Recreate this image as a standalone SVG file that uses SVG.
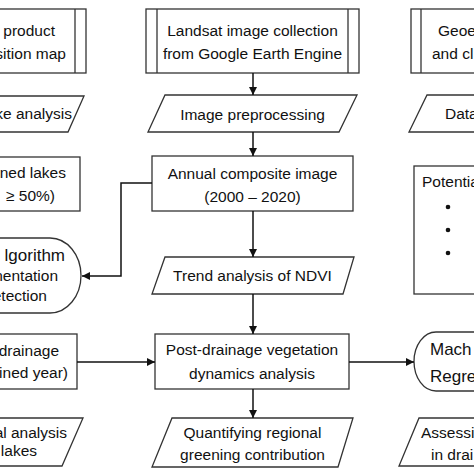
<svg xmlns="http://www.w3.org/2000/svg" width="474" height="474" viewBox="0 0 474 474">
<defs>
<marker id="ah" viewBox="0 0 10 10" refX="10" refY="5" markerWidth="8" markerHeight="8" markerUnits="userSpaceOnUse" orient="auto">
<path d="M0,0 L10,5 L0,10 Z" fill="#111"/>
</marker>
<style>
.s{fill:#fff;stroke:#333;stroke-width:1.3}
.c{fill:none;stroke:#111;stroke-width:1.5;marker-end:url(#ah)}
text{font-family:"Liberation Sans",Arial,sans-serif;font-size:15.5px;fill:#111}
.m{text-anchor:middle}
.e{text-anchor:end}
.b{font-size:17px}
</style>
</defs>
<rect width="474" height="474" fill="#fff"/>

<g id="lake-product">
<rect class="s" x="-40" y="9" width="126" height="64"/>
<line class="s" x1="75" y1="9" x2="75" y2="73"/>
<text class="e" x="55" y="36">product</text>
<text class="e" x="66" y="59">sition map</text>
</g>
<g id="landsat">
<rect class="s" x="146" y="9" width="213" height="64"/>
<line class="s" x1="157" y1="9" x2="157" y2="73"/>
<line class="s" x1="348" y1="9" x2="348" y2="73"/>
<text class="m" x="252.5" y="36">Landsat image collection</text>
<text class="m" x="252.5" y="59">from Google Earth Engine</text>
</g>
<g id="geo">
<rect class="s" x="411" y="9" width="100" height="64"/>
<line class="s" x1="421" y1="9" x2="421" y2="73"/>
<text x="438" y="36">Geoe</text>
<text x="432" y="58.5">and cl</text>
</g>

<g id="lake-analysis">
<polygon class="s" points="-40,96 84,96 68,132 -40,132"/>
<text class="e" x="72" y="119">ke analysis</text>
</g>
<g id="preprocessing">
<polygon class="s" points="165,95 357,95 339,132 148,132"/>
<text class="m" x="252.5" y="119.5">Image preprocessing</text>
</g>
<g id="data">
<polygon class="s" points="427,95 520,95 520,132 409,132"/>
<text x="445" y="119">Data</text>
</g>

<g id="drained-lakes">
<rect class="s" x="-40" y="157" width="120" height="54"/>
<text class="e" x="66" y="178">ned lakes</text>
<text class="e" x="55" y="201">≥ 50%)</text>
</g>
<g id="annual">
<rect class="s" x="152" y="156" width="201" height="55"/>
<text class="m" x="252.5" y="179">Annual composite image</text>
<text class="m" x="252.5" y="202">(2000 – 2020)</text>
</g>
<g id="potential">
<rect class="s" x="414" y="166" width="100" height="128"/>
<text x="422" y="187">Potentia</text>
<circle cx="448" cy="207" r="2.3" fill="#111"/>
<circle cx="448" cy="230" r="2.3" fill="#111"/>
<circle cx="448" cy="253" r="2.3" fill="#111"/>
</g>

<g id="algorithm">
<path class="s" d="M-60,238 H50 A31,37.5 0 0 1 50,313 H-60 Z"/>
<text class="e b" x="65" y="261">lgorithm</text>
<text class="e" x="58" y="281">nentation</text>
<text class="e" x="47" y="301">etection</text>
</g>
<g id="trend">
<polygon class="s" points="165,257 354,257 343,294 152,294"/>
<text class="m" x="252.5" y="281">Trend analysis of NDVI</text>
</g>

<g id="drainage-year">
<rect class="s" x="-40" y="334" width="117" height="55"/>
<text class="e" x="59" y="356">drainage</text>
<text class="e" x="68" y="378">ined year)</text>
</g>
<g id="post-drainage">
<rect class="s" x="155" y="334" width="194" height="55"/>
<text class="m" x="252" y="355">Post-drainage vegetation</text>
<text class="m" x="252" y="379">dynamics analysis</text>
</g>
<g id="machine">
<path class="s" d="M520,332 H436 A22,29.5 0 0 0 436,391 H520 Z"/>
<text class="b" x="430" y="355">Mach</text>
<text class="b" x="430" y="381.5">Regre</text>
</g>

<g id="spatial">
<polygon class="s" points="-40,418 83,418 62,466 -40,466"/>
<text class="e" x="67" y="438">al analysis</text>
<text class="e" x="37" y="456">lakes</text>
</g>
<g id="quantifying">
<polygon class="s" points="172,418 353,418 338,467 152,467"/>
<text class="m" x="252.5" y="438">Quantifying regional</text>
<text class="m" x="252.5" y="459.5">greening contribution</text>
</g>
<g id="assessing">
<polygon class="s" points="419,418 520,418 520,466 399,466"/>
<text x="421" y="438">Assessi</text>
<text x="431" y="460">in drai</text>
</g>

<g id="connectors">
<path class="c" d="M253,73 V95"/>
<path class="c" d="M253,132 V156"/>
<path class="c" d="M253,211 V257"/>
<path class="c" d="M152,183 H121 V276 H82"/>
<path class="c" d="M253,294 V334"/>
<path class="c" d="M77,362 H155"/>
<path class="c" d="M349,362 H414"/>
<path class="c" d="M253,389 V418"/>
</g>
</svg>
